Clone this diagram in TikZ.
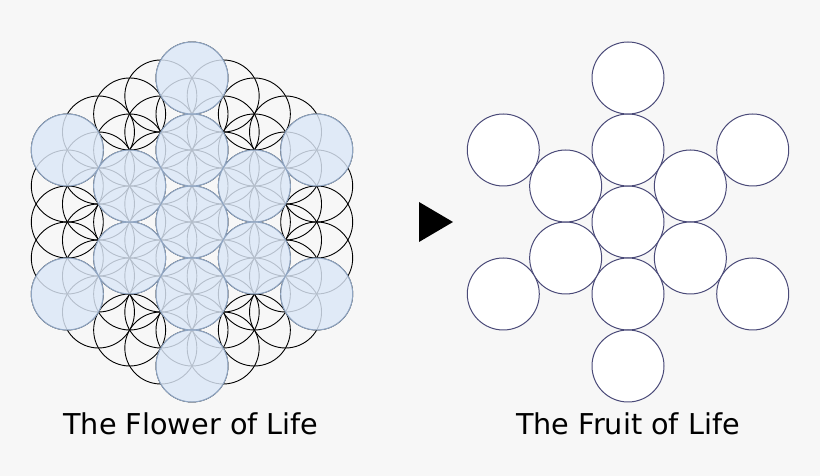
\documentclass[tikz,border=0pt]{standalone}
\usepackage{fontspec}
\setmainfont{DejaVu Sans}
\usetikzlibrary{calc}
\definecolor{pagebg}{HTML}{F7F7F7}
\definecolor{seedfill}{HTML}{DCE8F8}
\definecolor{seedline}{HTML}{8FA5C2}
\definecolor{fruitline}{HTML}{4A4A78}
\tikzset{
    petal/.style={draw=black, line width=0.9pt},
    seed/.style={circle, draw=seedline, fill=seedfill, fill opacity=0.82, line width=1pt, minimum size=72pt, inner sep=0pt},
    fruit/.style={circle, draw=fruitline, fill=white, line width=1pt, minimum size=72pt, inner sep=0pt},
    caption/.style={font=\fontsize{28.7}{34}\selectfont, anchor=base}
}
\begin{document}
\begin{tikzpicture}[x=1pt, y=1pt]
    \fill[pagebg] (0,0) rectangle (820,476);
    \useasboundingbox (0,0) rectangle (820,476);

    \coordinate (flower) at (192,254);
    \coordinate (fruit) at (628,254);

    % flower of life: hexagon of circles
    \foreach \q in {-4,...,4} {
        \foreach \r in {-4,...,4} {
            \pgfmathtruncatemacro\s{abs(\q-\r)}
            \ifnum\s<5
                \draw[petal] ($(flower)+(90:\q*36pt)+(-30:\r*36pt)$) circle[radius=36pt];
            \fi
        }
    }

    % the 13 circles
    \node[seed] (s0) at (flower) {};
    \node[fruit] (f0) at (fruit) {};
    \foreach \a [count=\i] in {90,30,-30,-90,-150,150} {
        \node[seed] (s\i) at ($(flower)+(\a:72pt)$) {};
        \node[seed] (t\i) at ($(flower)+(\a:144pt)$) {};
        \node[fruit] (f\i) at ($(fruit)+(\a:72pt)$) {};
        \node[fruit] (g\i) at ($(fruit)+(\a:144pt)$) {};
    }

    \fill[black] (419,274) -- (453,254) -- (419,234) -- cycle;

    \node[caption] (flowername) at (191,41) {The Flower of Life};
    \node[caption] (fruitname) at (628,41) {The Fruit of Life};
\end{tikzpicture}
\end{document}
